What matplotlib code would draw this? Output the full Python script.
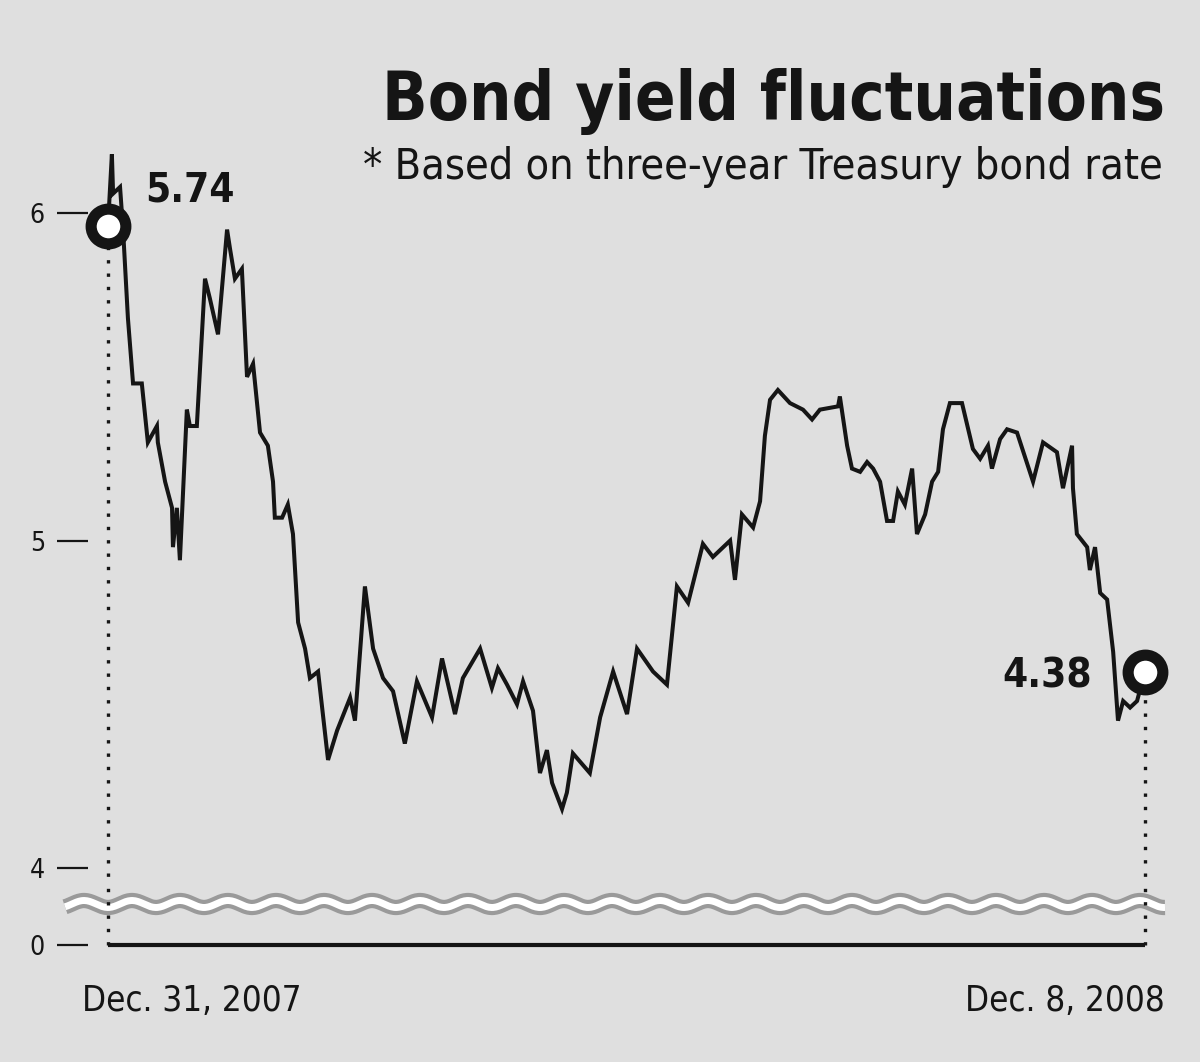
import matplotlib
matplotlib.use("Agg")
import matplotlib.pyplot as plt
import numpy as np

days = [0, 1.3, 1.7, 4.0, 5.0, 6.6, 8.3, 11.2, 13.2, 16.2, 16.5, 18.9, 21.2, 21.5,
        22.8, 23.8, 26.1, 27.1, 29.4, 32.1, 33.7, 36.4, 39.4, 40.4, 42.0, 44.3,
        46.0, 48.0, 50.3, 52.9, 54.6, 55.2, 57.6, 59.5, 61.2, 62.9, 65.2, 66.8,
        69.5, 72.8, 75.8, 80.1, 81.7, 85.0, 87.7, 91.0, 94.3, 98.2, 102.2, 107.2,
        110.5, 114.8, 117.4, 123.1, 127.0, 129.0, 132.0, 135.3, 137.3, 140.6,
        142.9, 145.2, 146.9, 150.2, 151.8, 153.8, 159.4, 162.8, 167.1, 171.7,
        175.0, 180.3, 184.9, 188.2, 191.9, 196.8, 200.1, 205.8, 207.4, 209.7,
        213.4, 215.7, 217.3, 219.0, 221.6, 225.6, 229.9, 232.9, 235.5, 241.5,
        242.1, 244.5, 246.1, 248.8, 251.1, 253.1, 255.4, 257.7, 259.7, 261.3,
        263.6, 266.0, 267.6, 270.3, 272.6, 274.6, 276.2, 278.5, 282.5, 286.1,
        288.5, 291.1, 292.4, 295.1, 297.4, 300.7, 306.0, 309.3, 313.9, 315.9,
        318.9, 319.2, 320.5, 323.9, 324.8, 326.5, 328.2, 330.5, 332.5, 334.1,
        335.8, 338.1, 340.4, 343.0]
yields = [5.96, 6.18, 6.06, 6.08, 5.95, 5.68, 5.48, 5.48, 5.30, 5.35, 5.30, 5.18,
          5.10, 4.98, 5.10, 4.94, 5.40, 5.35, 5.35, 5.80, 5.74, 5.63, 5.95, 5.89,
          5.80, 5.83, 5.50, 5.54, 5.33, 5.29, 5.18, 5.07, 5.07, 5.11, 5.02, 4.75,
          4.67, 4.58, 4.60, 4.33, 4.42, 4.52, 4.45, 4.86, 4.67, 4.58, 4.54, 4.38,
          4.57, 4.46, 4.64, 4.47, 4.58, 4.67, 4.55, 4.61, 4.56, 4.50, 4.57, 4.48,
          4.29, 4.36, 4.26, 4.18, 4.23, 4.35, 4.29, 4.46, 4.60, 4.47, 4.67, 4.60,
          4.56, 4.86, 4.81, 4.99, 4.95, 5.00, 4.88, 5.08, 5.04, 5.12, 5.32, 5.43,
          5.46, 5.42, 5.40, 5.37, 5.40, 5.41, 5.44, 5.29, 5.22, 5.21, 5.24, 5.22,
          5.18, 5.06, 5.06, 5.15, 5.11, 5.22, 5.02, 5.08, 5.18, 5.21, 5.34, 5.42,
          5.42, 5.28, 5.25, 5.29, 5.22, 5.31, 5.34, 5.33, 5.18, 5.30, 5.27, 5.16,
          5.29, 5.16, 5.02, 4.98, 4.91, 4.98, 4.84, 4.82, 4.66, 4.45, 4.51, 4.49,
          4.51, 4.60]
yticks = [4, 5, 6]
start_label, end_label = "5.74", "4.38"
start_date, end_date = "Dec. 31, 2007", "Dec. 8, 2008"

bg = "#dfdfdf"
ink = "#151515"
plt.rcParams["font.family"] = ["DejaVu Sans"]
plt.rcParams["font.stretch"] = "condensed"

W, H = 1200, 1062
fig = plt.figure(figsize=(W / 100, H / 100), dpi=100, facecolor=bg)

# decoration layer (axis break) in pixel space
deco = fig.add_axes([0, 0, 1, 1], zorder=0)
deco.set_xlim(0, W)
deco.set_ylim(H, 0)
deco.axis("off")
wx = np.linspace(65, 1165, 800)
wy = 904 + 3.5 * np.sin(2 * np.pi * wx / 48)
deco.plot(wx, wy, color="#9a9a9a", lw=11, solid_capstyle="butt")
deco.plot(wx, wy, color="white", lw=5, solid_capstyle="butt")

xlim = (-6.6, 351.3)

# main panel
ax = fig.add_axes([88 / W, (H - 885) / H, (1170 - 88) / W, 770 / H], zorder=2)
ax.set_facecolor("none")
ax.set_xlim(*xlim)
ax.set_ylim(3.948, 6.3)
for s in ax.spines.values():
    s.set_visible(False)
ax.set_xticks([])
ax.set_yticks(yticks)
ax.tick_params(axis="y", direction="out", length=22, width=1.6, color=ink,
               pad=9, labelsize=19, labelcolor=ink)

ax.plot(days, yields, color=ink, lw=2.9, solid_joinstyle="miter", zorder=3)
ax.vlines([days[0], days[-1]], 3.0, [yields[0], yields[-1]], color=ink,
          lw=2.4, linestyles=(0, (1, 3)), zorder=2)
ax.plot([days[0], days[-1]], [yields[0], yields[-1]], "o", ms=25,
        mfc="white", mec=ink, mew=8, zorder=4, clip_on=False)

ax.annotate(start_label, xy=(days[0], yields[0]), xytext=(37, 25),
            textcoords="offset pixels", ha="left", va="baseline",
            fontsize=29, fontweight="bold", color=ink)
ax.annotate(end_label, xy=(days[-1], yields[-1]), xytext=(-53, -16),
            textcoords="offset pixels", ha="right", va="baseline",
            fontsize=29, fontweight="bold", color=ink)

# zero panel below the break
ax0 = fig.add_axes([88 / W, (H - 1005) / H, (1170 - 88) / W, 120 / H], zorder=1)
ax0.set_facecolor("none")
ax0.set_xlim(*xlim)
ax0.set_ylim(-1, 1)
for s in ax0.spines.values():
    s.set_visible(False)
ax0.set_xticks([])
ax0.set_yticks([0])
ax0.tick_params(axis="y", direction="out", length=22, width=1.6, color=ink,
                pad=9, labelsize=19, labelcolor=ink)
ax0.plot([days[0], days[-1]], [0, 0], color=ink, lw=3, solid_capstyle="butt")
ax0.vlines([days[0], days[-1]], 0, 1, color=ink, lw=2.4,
           linestyles=(0, (1, 3)))

ax0.annotate(start_date, xy=(days[0], 0), xytext=(-26, -66),
             textcoords="offset pixels", ha="left", va="baseline",
             fontsize=25, color=ink)
ax0.annotate(end_date, xy=(days[-1], 0), xytext=(20, -66),
             textcoords="offset pixels", ha="right", va="baseline",
             fontsize=25, color=ink)

fig.text(1165 / W, (H - 120) / H, "Bond yield fluctuations", ha="right",
         va="baseline", fontsize=48, fontweight="bold", color=ink)
fig.text(1163 / W, (H - 179) / H, "* Based on three-year Treasury bond rate",
         ha="right", va="baseline", fontsize=31, color=ink)

fig.savefig("out.png", dpi=100, facecolor=bg)
